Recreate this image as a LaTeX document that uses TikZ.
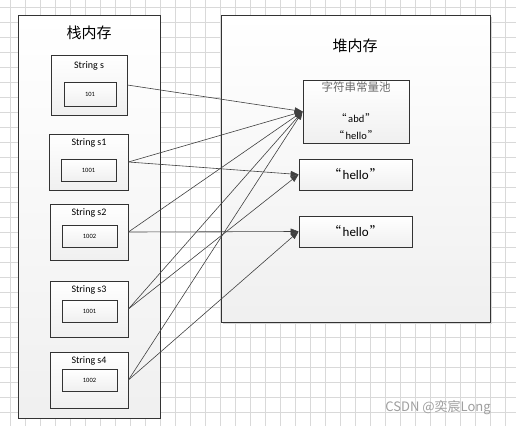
\documentclass[tikz,border=0pt]{standalone}
\usepackage{fontspec}
\setmainfont{Carlito}
\newfontfamily\cjk{Noto Sans CJK SC}
\usetikzlibrary{arrows.meta,shadows}
\definecolor{gridc}{HTML}{D9D9D9}
\definecolor{linec}{HTML}{404040}
\definecolor{edgec}{HTML}{333333}
\newcommand{\qtext}[1]{{\cjk “}\hspace{1.5pt}#1\hspace{1pt}{\cjk ”}}
\tikzset{
  region/.style={draw=edgec,line width=0.8pt,top color=white,bottom color=gray!12,inner sep=0pt},
  varbox/.style={draw=edgec,line width=0.8pt,top color=white,bottom color=gray!12,inner sep=0pt,minimum width=78pt,minimum height=56pt},
  valbox/.style={draw=edgec,line width=0.8pt,top color=white,bottom color=gray!12,inner sep=0pt,minimum width=55pt,minimum height=22pt,font=\fontsize{6.5}{7}\selectfont},
  varlabel/.style={inner sep=0pt,font=\fontsize{10}{12}\selectfont},
  strbox/.style={draw=edgec,line width=0.8pt,top color=white,bottom color=gray!12,inner sep=0pt,minimum width=113pt,minimum height=31pt,font=\fontsize{13}{15}\selectfont},
  ref/.style={draw=linec,line width=0.6pt,-{Triangle[length=8pt,width=6pt]}},
  title/.style={inner sep=0pt,font=\cjk\fontsize{15}{18}\selectfont}
}
\begin{document}
\begin{tikzpicture}[x=1pt,y=-1pt]
\useasboundingbox (0,0) rectangle (516,426);
\fill[white] (0,0) rectangle (516,426);
% grid
\foreach \gx in {10,25,...,515} \draw[gridc,line width=0.7pt] (\gx,0) -- (\gx,426);
\foreach \gy in {7,22,...,425} \draw[gridc,line width=0.7pt] (0,\gy) -- (516,\gy);
% regions
\node[region,minimum width=142pt,minimum height=403pt] (stack) at (89,216.5) {};
\node[region,minimum width=269pt,minimum height=307pt,drop shadow={fill=gray!30,opacity=1,shadow xshift=2pt,shadow yshift=-2pt}] (heap) at (355.5,168.5) {};
\node[title] (stackt) at (89,33) {栈内存};
\node[title] (heapt) at (355,46) {堆内存};
% stack variables
\node[varbox,minimum width=76pt,minimum height=60pt] (s) at (89,85) {};
\node[varlabel] (sl) at (89,66) {String s};
\node[valbox,minimum width=52pt,minimum height=24pt] (sv) at (90,94) {101};
\node[varbox,minimum width=79pt] (s1) at (88.5,162) {};
\node[varlabel] (s1l) at (89,143) {String s1};
\node[valbox] (s1v) at (88.5,170) {1001};
\node[varbox] (s2) at (89,232) {};
\node[varlabel] (s2l) at (89,213) {String s2};
\node[valbox] (s2v) at (89.5,236) {1002};
\node[varbox] (s3) at (89,309) {};
\node[varlabel] (s3l) at (89,290) {String s3};
\node[valbox] (s3v) at (89.5,311) {1001};
\node[varbox] (s4) at (89,380) {};
\node[varlabel] (s4l) at (89,361) {String s4};
\node[valbox] (s4v) at (89.5,380) {1002};
% heap objects
\node[region,minimum width=106pt,minimum height=63pt] (pool) at (356,111.5) {};
\begin{scope}
\clip (pool.north west) rectangle (pool.south east);
\node[inner sep=0pt,font=\cjk\fontsize{11.5}{13}\selectfont,text=gray!85!black] (poolt) at (356,87) {字符串常量池};
\end{scope}
\node[inner sep=0pt,font=\fontsize{10.5}{12}\selectfont] (abd) at (356,118) {\qtext{abd}};
\node[inner sep=0pt,font=\fontsize{10.5}{12}\selectfont] (hp) at (356,135) {\qtext{hello}};
\node[strbox] (h1) at (355.5,174.5) {\qtext{hello}};
\node[strbox] (h2) at (355.5,231.5) {\qtext{hello}};
% references
\draw[ref] (s.east) -- (pool.west);
\draw[ref] (s1.east) -- (pool.west);
\draw[ref] (s1.east) -- (h1.west);
\draw[ref] (s2.east) -- (pool.west);
\draw[ref] (s2.east) -- (h2.west);
\draw[ref] (s3.east) -- (pool.west);
\draw[ref] (s3.east) -- (h1.west);
\draw[ref] (s4.east) -- (pool.west);
\draw[ref] (s4.east) -- (h2.west);
% watermark
\node[inner sep=0pt,font=\cjk\fontsize{13}{15}\selectfont,text=gray!75] (wm) at (438,408) {CSDN @奕宸Long};
\end{tikzpicture}
\end{document}
